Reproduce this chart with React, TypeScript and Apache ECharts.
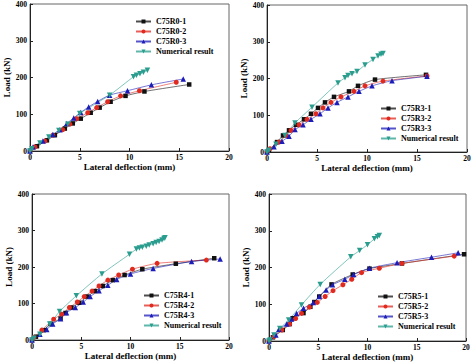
import { useEffect, useRef } from "react";
import * as echarts from "echarts";

// ---- data (lateral deflection mm, load kN) ----
const namesR0 = ["C75R0-1", "C75R0-2", "C75R0-3", "Numerical result"];
const namesR3 = ["C75R3-1", "C75R3-2", "C75R3-3", "Numerical result"];
const namesR4 = ["C75R4-1", "C75R4-2", "C75R4-3", "Numerical result"];
const namesR5 = ["C75R5-1", "C75R5-2", "C75R5-3", "Numerical result"];

const r0s1 = [[0,0],[0.7,13],[1.7,29],[2.5,43],[3.5,61],[4.3,75],[5.1,88],[6.1,104],[7.0,118],[8.1,134],[9.6,150],[11.5,162],[16.0,181]];
const r0s2 = [[0,0],[0.5,11],[1.5,27],[2.3,43],[3.3,58],[4.0,73],[4.7,88],[5.8,104],[6.7,118],[7.8,134],[9.1,150],[11.0,164],[14.7,187]];
const r0s3 = [[0,0],[0.3,11],[1.3,27],[2.3,45],[3.0,58],[3.7,75],[4.4,90],[5.1,105],[5.9,120],[6.8,135],[8.0,152],[9.8,164],[12.2,180],[15.4,196]];
const r0num = [[0,0],[0.2,6],[1.0,22],[1.9,38],[2.9,56],[3.8,73],[5.0,102],[8.0,152],[10.4,202],[10.7,206],[11.05,210],[11.4,214],[11.8,220]];

const r3s1 = [[0,0],[0.2,5],[1.0,27],[1.6,45],[2.2,59],[2.9,74],[3.7,89],[4.4,104],[5.1,120],[5.8,135],[6.7,150],[8.2,165],[9.1,180],[10.8,197],[15.9,210]];
const r3s2 = [[0,0],[0.3,9],[1.2,27],[1.9,45],[2.4,59],[3.2,74],[4.0,89],[4.9,104],[5.6,120],[6.4,135],[7.4,150],[8.7,165],[9.8,180],[11.6,193],[16.0,207]];
const r3s3 = [[0,0],[0.7,14],[1.5,29],[2.2,43],[2.8,61],[3.6,74],[4.4,89],[5.3,104],[6.1,120],[7.0,135],[8.1,150],[9.2,165],[10.5,180],[12.5,194],[16.0,206]];
const r3num = [[0,0],[0.2,5],[0.9,21],[1.8,45],[2.8,79],[4.5,122],[7.1,188],[7.8,202],[8.1,208],[8.5,213],[9.0,219],[9.8,237],[10.6,252],[11.1,261],[11.4,266],[11.6,268]];

const r4s1 = [[0,0],[0.4,9],[1.2,27],[1.9,44],[2.9,59],[3.4,74],[4.0,89],[4.8,102],[5.6,119],[6.4,134],[7.2,148],[8.2,164],[9.4,178],[11.2,194],[14.6,209],[18.5,224]];
const r4s2 = [[0,0],[0.2,7],[1.0,27],[2.2,57],[3.0,71],[3.8,89],[4.6,104],[5.3,119],[6.1,134],[6.8,148],[7.7,164],[8.8,178],[10.2,194],[12.7,210],[17.7,219]];
const r4s3 = [[0,0],[0.8,16],[1.5,29],[2.1,44],[2.9,58],[3.5,75],[4.4,89],[5.2,104],[5.9,119],[6.8,135],[7.7,150],[8.6,166],[10.0,181],[12.3,196],[16.2,215],[19.1,222]];
const r4num = [[0,0],[0.2,5],[0.8,16],[1.8,44],[2.8,78],[4.5,121],[7.1,181],[9.9,235],[10.6,249],[10.9,252],[11.2,254],[11.6,257],[11.9,260],[12.3,264],[12.6,267],[12.9,270],[13.2,274],[13.4,278],[13.5,280]];

const r5s1 = [[0,0],[0.4,10],[1.4,30],[2.1,46],[2.4,62],[3.5,76],[4.2,93],[4.6,106],[5.1,121],[6.35,154],[8.5,181],[10.2,197],[13.5,211],[19.8,236]];
const r5s2 = [[0,0],[0.5,12],[1.3,30],[2.1,46],[2.7,61],[3.3,75],[4.1,92],[4.9,105],[5.7,121],[6.5,137],[7.5,153],[8.4,168],[9.4,186],[11.2,198],[13.5,211],[18.8,231]];
const r5s3 = [[0,0],[0.7,16],[1.0,32],[1.8,46],[2.3,60],[2.8,75],[3.5,89],[4.5,105],[5.1,121],[5.8,139],[6.45,153],[7.7,168],[8.6,181],[10.2,198],[13.0,213],[16.5,228],[19.2,240]];
const r5num = [[0,0],[0.1,3],[0.5,16],[1.1,34],[2.0,57],[3.3,98],[5.2,154],[8.3,229],[9.2,246],[10.0,262],[10.7,278],[11.0,284],[11.2,287]];

const xMin = 0, xMax = 20, xStep = 5;
const yMin = 0, yMax = 400, yStep = 100;
const xTitle = "Lateral deflection (mm)";
const yTitle = "Load (kN)";

const panels = [
  { names: namesR0, data: [r0s1, r0s2, r0s3, r0num] },
  { names: namesR3, data: [r3s1, r3s2, r3s3, r3num] },
  { names: namesR4, data: [r4s1, r4s2, r4s3, r4num] },
  { names: namesR5, data: [r5s1, r5s2, r5s3, r5num] },
];

// ---- styling ----
const FONT = '"Liberation Serif", "Times New Roman", serif';
const grids = [
  { left: 30, top: 4, width: 199, height: 147 },
  { left: 267, top: 5, width: 200, height: 147 },
  { left: 32, top: 194, width: 197, height: 146 },
  { left: 269, top: 194, width: 197, height: 147 },
];
const legendPos = [
  { left: 135, top: 17 },
  { left: 380, top: 104 },
  { left: 143, top: 291 },
  { left: 377, top: 292 },
];
const seriesStyle = [
  { color: "#111111", symbol: "rect", size: 4.5, rotate: 0 },
  { color: "#e02a20", symbol: "circle", size: 5, rotate: 0 },
  { color: "#1c1cb8", symbol: "triangle", size: 5.5, rotate: 0 },
  { color: "#2a9d8f", symbol: "triangle", size: 5.5, rotate: 180 },
];

export default function App() {
  const ref = useRef<HTMLDivElement>(null);
  useEffect(() => {
    if (!ref.current) return;
    const chart = echarts.init(ref.current, undefined, { renderer: "svg" });
    const axisText = { fontFamily: FONT, fontWeight: "bold" as const, color: "#000" };
    const option = {
      animation: false,
      backgroundColor: "#ffffff",
      grid: grids.map((g) => ({ ...g, show: true, borderColor: "#666", borderWidth: 1, containLabel: false })),
      xAxis: grids.map((_, i) => ({
        gridIndex: i,
        type: "value",
        min: xMin,
        max: xMax,
        interval: xStep,
        name: xTitle,
        nameLocation: "middle",
        nameGap: 11,
        nameTextStyle: { ...axisText, fontSize: 9 },
        axisLine: { show: true, onZero: false, lineStyle: { color: "#222", width: 1 } },
        axisTick: { show: true, inside: true, length: 3, lineStyle: { color: "#222" } },
        axisLabel: { ...axisText, fontSize: 7.5, margin: 2 },
        splitLine: { show: false },
      })),
      yAxis: grids.map((_, i) => ({
        gridIndex: i,
        type: "value",
        min: yMin,
        max: yMax,
        interval: yStep,
        name: yTitle,
        nameLocation: "middle",
        nameGap: 19,
        nameTextStyle: { ...axisText, fontSize: 9 },
        axisLine: { show: true, onZero: false, lineStyle: { color: "#222", width: 1 } },
        axisTick: { show: true, inside: true, length: 3, lineStyle: { color: "#222" } },
        axisLabel: { ...axisText, fontSize: 7.5, margin: 3 },
        splitLine: { show: false },
      })),
      legend: panels.map((p, i) => ({
        ...legendPos[i],
        orient: "vertical",
        padding: 0,
        itemGap: 1,
        itemWidth: 15,
        itemHeight: 5,
        data: p.names,
        selectedMode: false,
        textStyle: { ...axisText, fontSize: 8, lineHeight: 9 },
      })),
      series: panels.flatMap((p, i) =>
        p.data.map((d, k) => {
          const st = seriesStyle[k];
          return {
            type: "line",
            name: p.names[k],
            xAxisIndex: i,
            yAxisIndex: i,
            data: d,
            symbol: st.symbol,
            symbolSize: st.size,
            symbolRotate: st.rotate,
            showSymbol: true,
            smooth: 0.2,
            itemStyle: { color: st.color },
            lineStyle: { color: st.color, width: 0.8, opacity: 0.75 },
          };
        })
      ),
    };
    chart.setOption(option as any);
    return () => chart.dispose();
  }, []);
  return (
    <div
      ref={ref}
      style={{ position: "fixed", left: 0, top: 0, width: 474, height: 363, background: "#fff" }}
    />
  );
}
